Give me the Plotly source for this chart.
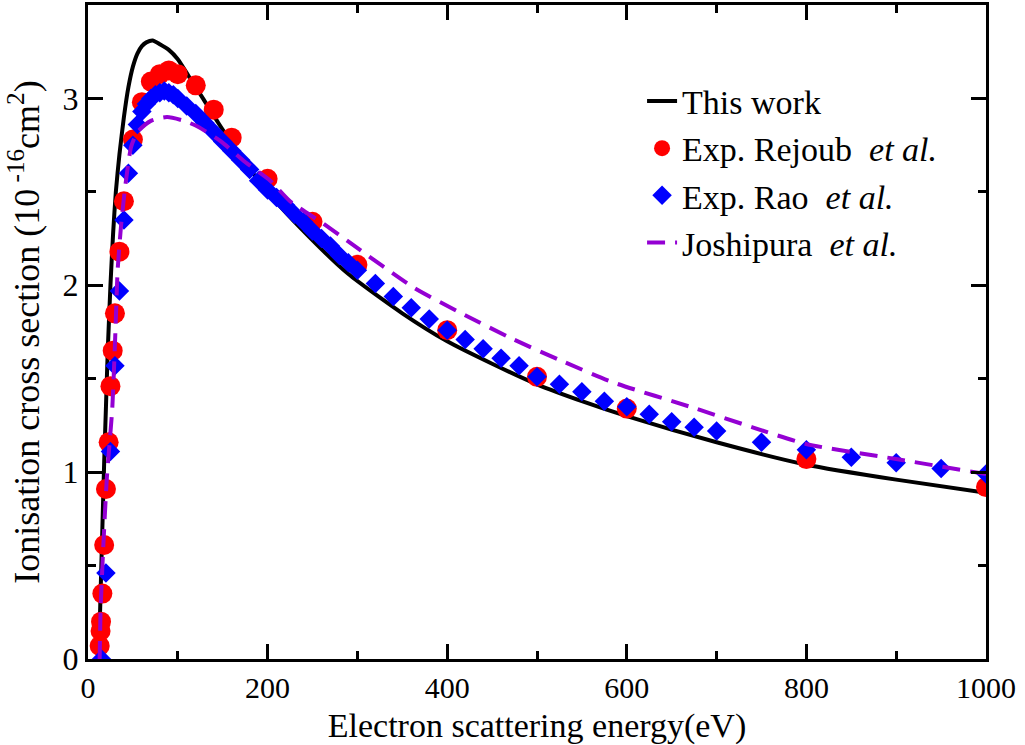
import plotly.graph_objects as go

# ---- data ----
this_work_E = [12, 14, 16, 18, 20, 22, 25, 28, 31, 35, 40, 45, 50, 55, 60, 65, 72, 80, 90, 100,
               112, 128, 145, 170, 200, 240, 290, 350, 400, 450, 500, 550, 600, 700, 800, 900, 1000]
this_work_Q = [0.0, 0.35, 0.70, 1.05, 1.35, 1.65, 2.00, 2.28, 2.50, 2.70, 2.90, 3.06, 3.17, 3.24,
               3.28, 3.30, 3.31, 3.29, 3.26, 3.21, 3.12, 3.00, 2.87, 2.69, 2.50, 2.29, 2.06, 1.85,
               1.70, 1.58, 1.47, 1.38, 1.30, 1.16, 1.04, 0.96, 0.89]

rejoub_E = [13, 14, 14.5, 16, 18, 20, 23, 25, 27.5, 30, 35, 40, 50, 60, 70, 80, 90, 100, 120,
            140, 160, 200, 250, 300, 400, 500, 600, 800, 1000]
rejoub_Q = [0.07, 0.15, 0.20, 0.35, 0.61, 0.91, 1.16, 1.46, 1.65, 1.85, 2.18, 2.45, 2.78, 2.98,
            3.09, 3.13, 3.15, 3.13, 3.07, 2.94, 2.79, 2.57, 2.34, 2.11, 1.76, 1.51, 1.34, 1.07, 0.92]

rao_E = [15, 20, 25, 30, 35, 40, 45, 50, 55, 60, 65, 70, 75, 80, 85, 90, 95, 100, 110, 120, 130,
         140, 150, 160, 170, 180, 190, 200, 210, 220, 230, 240, 250, 260, 270, 280, 290, 300,
         320, 340, 360, 380, 400, 420, 440, 460, 480, 500, 525, 550, 575, 600, 625, 650, 675,
         700, 750, 800, 850, 900, 950, 1000]
rao_Q = [0.00, 0.46, 1.11, 1.57, 1.97, 2.35, 2.60, 2.75, 2.86, 2.93, 2.97, 3.00, 3.02, 3.03, 3.04,
         3.03, 3.02, 3.00, 2.96, 2.92, 2.87, 2.82, 2.77, 2.72, 2.67, 2.62, 2.56, 2.51, 2.47, 2.43,
         2.38, 2.34, 2.29, 2.25, 2.21, 2.16, 2.12, 2.08, 2.01, 1.94, 1.88, 1.82, 1.76, 1.71, 1.66,
         1.61, 1.57, 1.51, 1.47, 1.43, 1.38, 1.35, 1.31, 1.27, 1.24, 1.22, 1.16, 1.12, 1.08, 1.05,
         1.02, 0.99]

joshi_E = [13, 14, 17, 21, 27, 30.5, 33, 37, 42, 48, 55, 70, 88, 107, 122, 148, 175, 203, 225,
           262, 294, 362, 420, 474, 530, 585, 677, 740, 800, 900, 1000]
joshi_Q = [0.0, 0.26, 0.60, 0.97, 1.34, 1.75, 2.08, 2.33, 2.55, 2.74, 2.82, 2.88, 2.90, 2.88, 2.85,
           2.77, 2.66, 2.56, 2.45, 2.33, 2.22, 1.99, 1.84, 1.71, 1.59, 1.48, 1.34, 1.24, 1.15,
           1.07, 0.99]

x_ticks = [0, 200, 400, 600, 800, 1000]
y_ticks = [0, 1, 2, 3]

FONT = "Liberation Serif"

fig = go.Figure()
fig.add_trace(go.Scatter(x=this_work_E, y=this_work_Q, mode="lines", name="This work",
                         line=dict(color="black", width=4, shape="spline", smoothing=0.6)))
fig.add_trace(go.Scatter(x=rejoub_E, y=rejoub_Q, mode="markers",
                         name="Exp. Rejoub  <i>et al.</i>",
                         marker=dict(symbol="circle", size=20, color="#ff0000")))
fig.add_trace(go.Scatter(x=rao_E, y=rao_Q, mode="markers",
                         name="Exp. Rao  <i>et al.</i>",
                         marker=dict(symbol="diamond", size=15, color="#0000ff")))
fig.add_trace(go.Scatter(x=joshi_E, y=joshi_Q, mode="lines",
                         name="Joshipura  <i>et al.</i>",
                         line=dict(color="#9400d3", width=4, dash="18px,10px",
                                   shape="spline", smoothing=0.6)))

axis_common = dict(
    showline=True, linecolor="black", linewidth=3, mirror="allticks",
    ticks="inside", ticklen=15, tickwidth=3, tickcolor="black",
    showgrid=False, zeroline=False,
)

fig.update_xaxes(range=[0, 1000], tickvals=x_ticks,
                 tickfont=dict(family=FONT, size=30, color="black"),
                 minor=dict(dtick=100, ticks="inside", ticklen=8, tickwidth=3, tickcolor="black"),
                 title=dict(text="Electron scattering energy(eV)",
                            font=dict(family=FONT, size=34, color="black")),
                 **axis_common)
fig.update_yaxes(range=[0, 3.5], tickvals=y_ticks,
                 tickfont=dict(family=FONT, size=32, color="black"),
                 minor=dict(dtick=0.5, ticks="inside", ticklen=8, tickwidth=3, tickcolor="black"),
                 title=dict(text="Ionisation cross section (10<sup> -16</sup>cm<sup>2</sup>)",
                            font=dict(family=FONT, size=36, color="black"), standoff=12),
                 **axis_common)

fig.update_layout(
    width=1025, height=745,
    margin=dict(l=88, r=39, t=2, b=82),
    paper_bgcolor="white", plot_bgcolor="white",
    font=dict(family=FONT, color="black"),
    legend=dict(x=0.617, y=0.897, xanchor="left", yanchor="top",
                bgcolor="rgba(0,0,0,0)", font=dict(family=FONT, size=34, color="black"),
                tracegroupgap=0),
)

fig.write_html("out.html")
